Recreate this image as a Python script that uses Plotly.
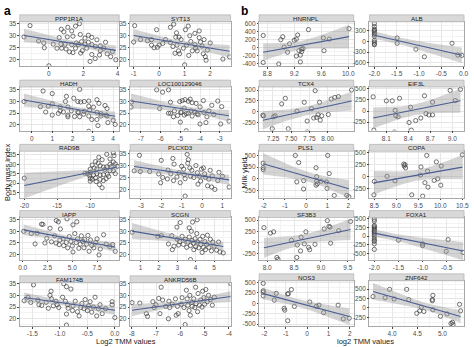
import numpy as np
import plotly.graph_objects as go

W, H = 474, 347

# ---------------- panel a: body mass index vs expression ----------------
PPP1R1A = [(-1.45,29.5),(-1.1,34.2),(-0.6,27.8),(-0.3,27.0),(-0.27,25.0),(0.0,17.5),(0.25,26.5),(0.47,24.8),
           (0.6,29.2),(0.7,26.5),(0.72,32.7),(0.75,24.8),(0.87,31.6),(0.95,26.5),(1.0,24.5),(1.07,29.5),
           (1.1,33.5),(1.2,23.3),(1.33,32.0),(1.33,26.3),(1.4,29.8),(1.4,23.0),(1.55,34.0),(1.55,24.8),
           (1.6,27.0),(1.72,26.3),(1.78,35.0),(1.83,30.5),(1.85,22.8),(1.9,27.5),(1.95,23.8),(2.1,29.0),
           (2.1,26.5),(2.2,24.8),(2.3,30.2),(2.3,27.3),(2.4,19.3),(2.5,29.3),(2.5,26.3),(2.5,22.2),
           (2.7,20.5),(2.7,25.5),(2.8,28.3),(2.95,22.0),(3.0,23.8),(3.0,25.8),(3.2,24.8),(3.3,27.3),
           (3.4,22.5),(3.6,21.3),(3.7,23.5),(3.9,20.0)]
SYT13 = [(-0.96,34.2),(-1.0,27.4),(-0.73,28.4),(-0.46,27.9),(-0.3,28.4),(-0.1,32.5),(-0.3,26.1),(-0.2,25.0),
         (-0.07,25.2),(0.0,26.1),(0.14,26.8),(0.25,28.4),(0.44,33.5),(0.44,27.2),(0.54,25.5),(0.57,34.8),
         (0.62,22.7),(0.65,29.4),(0.68,31.2),(0.7,26.1),(0.76,23.7),(0.78,29.4),(0.8,22.5),(0.86,28.4),
         (0.95,24.8),(1.0,17.9),(1.03,32.5),(1.08,26.1),(1.14,34.0),(1.16,21.8),(1.2,30.0),(1.24,27.6),
         (1.3,23.7),(1.4,26.3),(1.4,31.0),(1.43,24.8),(1.49,23.7),(1.57,29.2),(1.57,32.0),(1.62,27.4),
         (1.68,25.7),(1.73,22.5),(1.76,28.4),(1.81,21.3),(1.84,19.8),(1.89,24.0),(2.0,27.0),(2.5,20.3),
         (2.76,21.2)]
HADH = [(-0.39,30.0),(0.42,27.8),(0.55,34.5),(0.68,25.5),(0.8,28.0),(1.0,33.4),(1.0,29.0),(1.0,24.2),
        (1.3,24.9),(1.39,27.7),(1.39,26.0),(1.55,25.5),(1.65,30.0),(1.7,32.2),(1.77,27.7),(1.77,24.2),
        (1.77,23.5),(1.94,26.0),(2.06,31.4),(2.1,23.6),(2.26,30.0),(2.26,25.5),(2.3,25.3),(2.35,35.2),
        (2.35,23.5),(2.4,29.8),(2.55,24.6),(2.58,30.0),(2.58,25.8),(2.8,30.2),(2.8,28.0),(2.8,23.8),
        (2.8,17.3),(2.84,26.3),(2.95,22.3),(3.03,27.6),(3.2,30.8),(3.2,25.4),(3.2,22.3),(3.25,19.7),
        (3.3,29.2),(3.4,24.8),(3.4,23.8),(3.6,28.3),(3.65,24.2),(3.7,27.0),(3.7,23.8),(3.74,21.0),
        (4.0,22.0),(4.1,20.2)]
LOC100129046 = [(-7.5,27.6),(-7.47,29.8),(-6.2,35.0),(-6.05,27.0),(-5.9,34.0),(-5.6,35.0),(-5.6,25.0),
                (-5.5,29.7),(-5.5,25.0),(-5.35,23.5),(-5.3,26.0),(-5.14,24.0),(-5.03,30.0),(-5.0,21.2),
                (-4.97,25.5),(-4.96,25.3),(-4.9,30.4),(-4.8,27.2),(-4.8,24.2),(-4.76,30.8),(-4.7,24.8),
                (-4.7,17.5),(-4.6,30.1),(-4.6,25.0),(-4.5,31.0),(-4.45,26.0),(-4.4,29.5),(-4.4,23.8),
                (-4.26,25.6),(-4.2,29.2),(-4.15,24.8),(-4.1,24.3),(-4.0,27.7),(-4.0,20.4),(-3.83,30.4),
                (-3.8,25.3),(-3.7,21.0),(-3.65,23.5),(-3.55,26.0),(-3.4,28.4),(-3.3,24.5),(-3.1,30.2),
                (-2.95,20.4),(-2.9,27.8),(-2.53,21.6)]
RAD9B = [(-20.0,22.6),(-10.8,25.2),(-10.4,25.0),(-10.0,27.4),(-10.0,25.7),(-10.1,24.0),(-10.0,22.5),
         (-10.0,21.0),(-9.7,29.6),(-9.7,22.0),(-9.5,24.3),(-9.4,28.0),(-9.2,31.4),(-9.2,22.7),(-9.1,20.8),
         (-9.0,27.5),(-9.0,25.0),(-8.8,30.6),(-8.7,33.7),(-8.6,19.2),(-8.5,29.2),(-8.5,24.3),(-8.5,22.0),
         (-8.2,32.4),(-8.2,17.5),(-8.0,28.5),(-8.0,24.5),(-8.0,21.3),(-7.8,27.2),(-7.6,22.3),(-7.5,35.3),
         (-7.5,28.6),(-7.4,24.7),(-7.2,23.5),(-7.0,32.8),(-7.0,30.0),(-7.0,26.6),(-6.8,28.7),(-6.5,36.0),
         (-6.5,31.2),(-6.5,26.5),(-6.4,34.6),(-6.2,30.2),(-6.2,25.0),(-5.9,28.9)]
PLCXD3 = [(-3.33,27.8),(-3.07,34.3),(-3.03,27.5),(-2.57,27.5),(-2.13,26.5),(-2.03,22.8),(-2.0,32.2),
          (-1.93,25.0),(-1.7,24.4),(-1.67,28.1),(-1.53,26.5),(-1.43,33.0),(-1.4,23.7),(-1.37,30.6),
          (-1.23,25.2),(-1.13,27.0),(-1.07,22.8),(-1.0,29.7),(-0.9,28.5),(-0.87,26.2),(-0.83,24.5),
          (-0.83,17.2),(-0.73,34.7),(-0.7,31.0),(-0.67,32.5),(-0.6,29.0),(-0.57,25.5),(-0.5,28.0),
          (-0.4,25.0),(-0.3,30.0),(-0.23,27.0),(-0.2,22.2),(-0.13,25.5),(-0.07,23.5),(-0.03,28.5),
          (0.07,29.0),(0.13,26.5),(0.17,25.0),(0.27,21.5),(0.33,24.3),(0.4,28.0),(0.47,21.0),(0.5,25.7),
          (0.63,20.0),(0.77,23.7),(0.83,27.2),(1.0,25.5),(1.33,21.0)]
IAPP = [(0.1,30.0),(0.86,29.0),(1.25,24.5),(1.45,29.2),(1.9,33.1),(2.04,33.0),(2.24,24.9),(2.43,27.0),
        (2.76,31.3),(2.9,25.4),(3.22,28.0),(3.36,24.9),(3.39,34.7),(3.6,34.1),(3.68,24.2),(3.75,26.2),
        (3.8,31.0),(4.08,26.7),(4.14,23.8),(4.4,25.1),(4.47,35.4),(4.54,22.8),(4.7,27.7),(4.87,25.6),
        (5.0,23.6),(5.07,21.0),(5.07,32.8),(5.26,29.0),(5.4,25.1),(5.46,34.1),(5.53,26.7),(5.66,22.6),
        (5.8,24.4),(5.92,28.0),(6.05,25.6),(6.18,22.8),(6.25,26.4),(6.45,24.4),(6.58,28.2),(6.7,21.3),
        (6.84,26.2),(6.97,23.8),(7.17,22.8),(7.37,25.1),(7.5,26.7),(7.7,19.7),(7.83,22.3),(8.16,28.5),
        (8.42,24.4),(8.8,23.3),(9.08,24.2),(9.34,21.3)]
SCGN = [(0.54,29.6),(1.94,27.8),(2.13,28.1),(2.52,24.5),(2.7,28.1),(2.73,22.0),(2.82,23.5),(2.98,31.8),
        (3.0,26.5),(3.07,24.0),(3.13,25.5),(3.16,33.8),(3.26,27.8),(3.33,24.3),(3.44,26.5),(3.51,23.0),
        (3.58,25.3),(3.65,31.5),(3.65,27.5),(3.72,23.8),(3.72,17.7),(3.76,30.0),(3.8,26.0),(3.83,34.0),
        (3.87,24.8),(3.9,22.0),(3.97,26.8),(4.0,23.3),(4.06,29.0),(4.08,35.0),(4.1,25.3),(4.17,22.8),
        (4.24,26.5),(4.28,24.3),(4.35,20.8),(4.38,27.8),(4.42,23.0),(4.5,25.5),(4.53,22.0),(4.6,24.3),
        (4.64,28.3),(4.72,23.0),(4.8,26.5),(4.86,21.5),(4.93,25.3),(5.0,23.5),(5.14,21.8),(5.25,25.3),
        (5.32,21.0),(5.5,20.6)]
FAM174B = [(-1.65,27.7),(-1.58,29.2),(-1.48,34.5),(-1.53,27.0),(-1.38,26.0),(-1.4,28.0),(-1.33,25.7),
           (-1.25,27.0),(-1.21,24.5),(-1.18,30.0),(-1.16,31.8),(-1.15,28.5),(-1.12,25.5),(-1.07,27.5),
           (-1.05,26.0),(-1.02,24.8),(-0.93,35.0),(-0.88,33.7),(-0.8,32.7),(-0.95,29.2),(-0.9,27.5),
           (-0.86,26.0),(-0.85,24.5),(-0.88,22.0),(-0.88,17.3),(-0.77,23.5),(-0.76,25.5),(-0.72,27.5),
           (-0.68,23.0),(-0.65,21.2),(-0.62,24.8),(-0.6,26.5),(-0.56,24.3),(-0.54,28.2),(-0.5,23.5),
           (-0.48,25.5),(-0.45,27.3),(-0.42,22.8),(-0.39,25.0),(-0.36,29.2),(-0.33,21.2),(-0.3,24.3),
           (-0.27,26.0),(-0.23,22.2),(-0.17,24.3),(-0.05,27.3),(-0.05,26.0),(0.0,20.5)]
ANKRD56B = [(-7.99,26.9),(-7.67,26.7),(-7.4,22.2),(-7.35,21.0),(-7.13,27.3),(-7.08,24.8),(-7.0,26.0),
            (-6.89,28.7),(-6.84,22.2),(-6.79,33.5),(-6.73,28.0),(-6.6,25.3),(-6.49,20.0),(-6.47,27.5),
            (-6.44,24.8),(-6.33,26.2),(-6.2,28.5),(-6.17,21.5),(-6.12,25.3),(-6.09,22.2),(-5.96,26.2),
            (-5.93,29.0),(-5.85,24.8),(-5.8,17.5),(-5.75,32.2),(-5.72,28.5),(-5.69,25.8),(-5.64,23.5),
            (-5.61,30.0),(-5.59,21.5),(-5.53,27.0),(-5.51,25.3),(-5.45,28.5),(-5.4,24.8),(-5.37,33.5),
            (-5.35,26.5),(-5.29,23.0),(-5.27,30.8),(-5.21,25.8),(-5.16,28.0),(-5.11,25.0),(-5.08,31.8),
            (-5.03,29.0),(-5.0,26.2),(-4.95,32.5),(-4.89,27.3),(-4.84,30.0),(-4.76,28.2),(-4.68,25.8),
            (-4.6,29.2),(-3.92,35.0)]

# ---------------- panel b: milk yield vs expression ----------------
HNRNPL = [(8.74,307),(8.74,-373),(8.97,-410),(9.0,200),(9.03,276),(9.05,15),(9.1,-112),(9.13,97),
          (9.2,187),(9.23,216),(9.25,320),(9.23,-209),(9.27,-75),(9.31,-37),(9.31,-97),(9.33,-22),
          (9.29,-187),(9.29,-358),(9.41,455),(9.63,246),(9.72,216),(9.64,-75),(10.01,478)]
ALB = [(-2.0,508),(-2.0,425),(-2.0,350),(-2.0,317),(-2.0,283),(-2.0,233),(-2.0,200),(-2.0,150),
       (-2.0,33),(-2.0,-17),(-2.0,-67),(-2.0,-92),(-1.49,100),(-1.49,-50),(-1.07,-217),(-0.88,-433),
       (-0.26,-50),(-0.13,-383),(-0.04,-392)]
TCX4 = [(7.11,-75),(7.12,-90),(7.26,-110),(7.28,-88),(7.24,-385),(7.37,184),(7.42,310),(7.46,-385),
        (7.58,15),(7.68,220),(7.72,-210),(7.72,-460),(7.78,74),(7.81,-140),(7.83,486),(7.85,-125),
        (7.87,-66),(7.89,220),(7.9,-190),(7.92,-88),(8.01,-60),(8.05,295),(8.1,331),(8.15,350),(8.33,500)]
EIF3L = [(7.92,320),(7.93,-429),(8.1,229),(8.18,229),(8.21,-471),(8.22,14),(8.23,-107),(8.26,-129),
         (8.28,286),(8.41,-257),(8.43,86),(8.44,-429),(8.5,-214),(8.57,-157),(8.62,343),(8.64,-57),
         (8.68,-86),(8.73,-86),(8.73,200),(8.97,464),(9.04,236),(9.11,486)]
PLS1 = [(-2.03,333),(-2.03,236),(-2.03,194),(-0.51,500),(-0.35,347),(-0.44,-69),(-0.12,-222),
        (-0.12,-42),(0.47,236),(0.47,-139),(0.5,42),(0.5,-56),(0.53,-111),(0.71,-56),(0.96,-69),
        (1.02,500),(1.09,111),(0.99,-208),(1.33,-361),(1.92,-361),(2.02,-389)]
COPA = [(8.5,-93),(8.49,-373),(8.79,13),(8.97,-80),(9.17,267),(9.18,227),(9.21,187),(9.2,253),
        (9.35,-373),(9.55,40),(9.56,207),(9.6,-400),(9.65,-120),(9.71,120),(9.72,-213),(9.69,447),
        (9.86,-73),(9.94,-40),(9.91,313),(10.01,-173),(10.02,227),(10.5,460)]
SF3B3 = [(7.94,330),(8.06,208),(8.12,236),(8.18,-343),(8.2,-383),(8.45,46),(8.56,-60),(8.55,-343),
         (8.63,115),(8.62,-195),(8.69,-34),(8.72,236),(8.77,-115),(8.79,-167),(8.89,-46),(9.06,302),
         (9.12,490),(9.15,360),(9.17,343),(9.18,-20),(9.33,262),(9.55,470)]
FOXA1 = [(-2.0,482),(-2.0,430),(-2.0,307),(-2.0,272),(-2.0,237),(-2.0,202),(-2.0,167),(-2.0,132),
         (-2.0,96),(-2.0,61),(-2.0,9),(-2.0,-61),(-2.0,-114),(-2.0,-149),(-2.0,-219),(-2.0,-377),
         (-1.5,-114),(-1.0,-219),(-1.0,-272),(-0.51,-430),(-0.47,-96),(-0.16,-465)]
NOS3 = [(-2.06,478),(-2.06,299),(-2.06,269),(-2.06,179),(-1.54,75),(-1.45,239),(-0.92,224),(-0.88,230),
        (-0.74,328),(-1.08,-119),(-1.05,-164),(-0.6,-75),(-0.91,-418),(0.12,30),(0.43,-75),(0.55,-45),
        (0.77,-224),(1.45,-45),(1.69,-373),(1.97,-358)]
ZNF642 = [(3.62,302),(3.86,270),(3.95,492),(4.04,238),(4.29,492),(4.33,222),(4.49,-143),(4.55,-79),
          (4.58,16),(4.63,-95),(4.8,222),(4.81,333),(4.8,190),(4.81,-48),(4.96,-222),(5.09,-159),
          (5.17,-413),(5.2,-381),(5.21,-444),(5.34,95),(5.36,-79)]

# axis settings per facet: data, x range, x ticks, tick format, y range, y ticks
A_Y = [20, 25, 30, 35]
A_YR = [17.3, 35.8]
PANELS = [
    ("PPP1R1A", PPP1R1A, "a", 0, 0, [-1.7, 4.1], [0, 2, 4], "{:g}", A_YR, A_Y),
    ("SYT13", SYT13, "a", 0, 1, [-1.14, 2.8], [-1, 0, 1, 2], "{:g}", A_YR, A_Y),
    ("HADH", HADH, "a", 1, 0, [-0.6, 4.3], [0, 1, 2, 3, 4], "{:g}", [17.6, 36.2], A_Y),
    ("LOC100129046", LOC100129046, "a", 1, 1, [-7.55, -2.45], [-7, -6, -5, -4, -3], "{:g}", [17.6, 36.2], A_Y),
    ("RAD9B", RAD9B, "a", 2, 0, [-20.7, -5.6], [-20, -15, -10], "{:g}", [12.2, 36.9], [15, 20, 25, 30, 35]),
    ("PLCXD3", PLCXD3, "a", 2, 1, [-3.53, 1.4], [-3, -2, -1, 0, 1], "{:g}", [16.5, 36.0], A_Y),
    ("IAPP", IAPP, "a", 3, 0, [-0.3, 9.74], [0, 2.5, 5, 7.5], "{:.1f}", [17.5, 36.0], A_Y),
    ("SCGN", SCGN, "a", 3, 1, [0.43, 5.9], [1, 2, 3, 4, 5], "{:g}", [17.5, 36.0], A_Y),
    ("FAM174B", FAM174B, "a", 4, 0, [-1.73, 0.08], [-1.5, -1.0, -0.5, 0.0], "{:.1f}", [16.8, 35.4], A_Y),
    ("ANKRD56B", ANKRD56B, "a", 4, 1, [-8.07, -3.93], [-8, -7, -6, -5, -4], "{:g}", [16.8, 35.4], A_Y),
    ("HNRNPL", HNRNPL, "b", 0, 0, [8.68, 10.08], [8.8, 9.2, 9.6, 10.0], "{:.1f}", [-467, 652], [-400, -200, 0, 200, 400, 600]),
    ("ALB", ALB, "b", 0, 1, [-2.11, 0.01], [-2.0, -1.5, -1.0, -0.5, 0.0], "{:.1f}", [-700, 558], [-600, -300, 0, 300]),
    ("TCX4", TCX4, "b", 1, 0, [7.06, 8.36], [7.25, 7.5, 7.75, 8.0], "{:.2f}", [-426, 570], [-250, 0, 250, 500]),
    ("EIF3L", EIF3L, "b", 1, 1, [7.87, 9.16], [8.1, 8.4, 8.7, 9.0], "{:.1f}", [-437, 540], [-250, 0, 250, 500]),
    ("PLS1", PLS1, "b", 2, 0, [-2.22, 2.25], [-2, -1, 0, 1, 2], "{:g}", [-410, 590], [-250, 0, 250, 500]),
    ("COPA", COPA, "b", 2, 1, [8.39, 10.54], [8.5, 9.0, 9.5, 10.0, 10.5], "{:.1f}", [-433, 534], [-250, 0, 250, 500]),
    ("SF3B3", SF3B3, "b", 3, 0, [7.85, 9.61], [8.0, 8.5, 9.0, 9.5], "{:.1f}", [-400, 560], [-250, 0, 250, 500]),
    ("FOXA1", FOXA1, "b", 3, 1, [-2.1, -0.14], [-2.0, -1.5, -1.0, -0.5], "{:.1f}", [-680, 535], [-500, -250, 0, 250, 500]),
    ("NOS3", NOS3, "b", 4, 0, [-2.25, 2.18], [-2, -1, 0, 1, 2], "{:g}", [-550, 540], [-500, -250, 0, 250, 500]),
    ("ZNF642", ZNF642, "b", 4, 1, [3.55, 5.43], [4.0, 4.5, 5.0], "{:.1f}", [-486, 720], [-250, 0, 250, 500]),
]

# facet geometry in pixels: column (left, right); row (strip top, plot top, plot bottom)
COLS = {"a": [(18, 119), (130, 232)], "b": [(261, 357), (373, 469)]}
ROWS = {"a": [(12, 19, 64), (78, 85, 129), (143, 150, 197), (210, 217, 260), (276, 283, 327)],
        "b": [(12, 19, 64), (78, 85, 129), (143, 150, 197), (210, 217, 260), (274, 281, 327)]}

FONT = "Liberation Sans, Arial, sans-serif"
LINE_COL = "#4a5d92"


def fx(px):
    return px / W


def fy(py):
    return 1 - py / H


def lm_band(x, y):
    """Least-squares line with a 95% confidence band over the data range."""
    n = len(x)
    b1, b0 = np.polyfit(x, y, 1)
    xs = np.linspace(x.min(), x.max(), 80)
    fit = b0 + b1 * xs
    resid = y - (b0 + b1 * x)
    s = np.sqrt(resid @ resid / (n - 2))
    sxx = ((x - x.mean()) ** 2).sum()
    se = s * np.sqrt(1 / n + (xs - x.mean()) ** 2 / sxx)
    t = 1.96 + 2.5 / (n - 2)
    return xs, fit, fit - t * se, fit + t * se


def minor_vals(ticks, rng):
    step = ticks[1] - ticks[0]
    cand = [ticks[0] - step / 2] + [t + step / 2 for t in ticks]
    return [c for c in cand if rng[0] <= c <= rng[1]]


def fmt(v, f):
    return f.format(abs(v)) if v == 0 else f.format(v)


fig = go.Figure()
shapes, annots = [], []
layout_axes = {}

for i, (name, pts, grid, r, c, xr, xt, xf, yr, yt) in enumerate(PANELS, start=1):
    x = np.array([p[0] for p in pts], dtype=float)
    y = np.array([p[1] for p in pts], dtype=float)
    xa, ya = ("x", "y") if i == 1 else (f"x{i}", f"y{i}")
    l, rr = COLS[grid][c]
    st, pt, pb = ROWS[grid][r]

    xs, fit, lo, hi = lm_band(x, y)
    fig.add_trace(go.Scatter(x=x, y=y, mode="markers", xaxis=xa, yaxis=ya, showlegend=False,
                             marker=dict(symbol="circle-open", size=4.2, color="#3a3a3a",
                                         line=dict(width=0.7, color="#3a3a3a"))))
    fig.add_trace(go.Scatter(x=np.concatenate([xs, xs[::-1]]), y=np.concatenate([hi, lo[::-1]]),
                             mode="lines", fill="toself", fillcolor="rgba(153,153,153,0.42)",
                             line=dict(width=0), xaxis=xa, yaxis=ya, showlegend=False, hoverinfo="skip"))
    fig.add_trace(go.Scatter(x=xs, y=fit, mode="lines", line=dict(color=LINE_COL, width=1.1),
                             xaxis=xa, yaxis=ya, showlegend=False))

    common = dict(showgrid=True, gridcolor="#e6e6e6", gridwidth=0.6, zeroline=False,
                  showline=True, mirror=True, linecolor="#a8a8a8", linewidth=0.6,
                  ticks="outside", ticklen=1.5, tickwidth=0.6, tickcolor="#444",
                  tickfont=dict(size=6.5, color="#4d4d4d", family=FONT), fixedrange=True)
    key = "" if i == 1 else str(i)
    layout_axes["xaxis" + key] = dict(
        domain=[fx(l), fx(rr)], anchor=ya, range=xr, tickmode="array", tickvals=xt,
        ticktext=[fmt(v, xf) for v in xt],
        minor=dict(tickmode="array", tickvals=minor_vals(xt, xr), showgrid=True,
                   gridcolor="#f3f3f3", gridwidth=0.5, ticklen=0),
        **common)
    layout_axes["yaxis" + key] = dict(
        domain=[fy(pb), fy(pt)], anchor=xa, range=yr, tickmode="array", tickvals=yt,
        ticktext=[str(v) for v in yt],
        minor=dict(tickmode="array", tickvals=minor_vals(yt, yr), showgrid=True,
                   gridcolor="#f3f3f3", gridwidth=0.5, ticklen=0),
        **common)

    # facet strip
    shapes.append(dict(type="rect", xref="paper", yref="paper", x0=fx(l), x1=fx(rr),
                       y0=fy(pt), y1=fy(st), fillcolor="#d9d9d9",
                       line=dict(color="#a8a8a8", width=0.6), layer="above"))
    annots.append(dict(text=name, xref="paper", yref="paper", x=fx((l + rr) / 2), y=fy((st + pt) / 2),
                       showarrow=False, xanchor="center", yanchor="middle",
                       font=dict(size=6.2, color="#1a1a1a", family=FONT)))

# axis titles and panel letters
annots += [
    dict(text="Body mass index", x=fx(5), y=fy(171), textangle=-90),
    dict(text="Log2 TMM values", x=fx(126), y=fy(342)),
    dict(text="Milk yield", x=fx(246), y=fy(172), textangle=-90),
    dict(text="log2 TMM values", x=fx(369), y=fy(342)),
]
for a in annots[-4:]:
    a.update(xref="paper", yref="paper", showarrow=False, xanchor="center", yanchor="middle",
             font=dict(size=7.5, color="#1a1a1a", family=FONT))
for letter, px in (("a", 6), ("b", 246)):
    annots.append(dict(text=f"<b>{letter}</b>", xref="paper", yref="paper", x=fx(px), y=fy(8),
                       showarrow=False, xanchor="center", yanchor="middle",
                       font=dict(size=12, color="#000", family=FONT)))

fig.update_layout(width=W, height=H, margin=dict(l=0, r=0, t=0, b=0),
                  paper_bgcolor="white", plot_bgcolor="white",
                  shapes=shapes, annotations=annots, **layout_axes)
fig.write_html("out.html", config={"displayModeBar": False})
